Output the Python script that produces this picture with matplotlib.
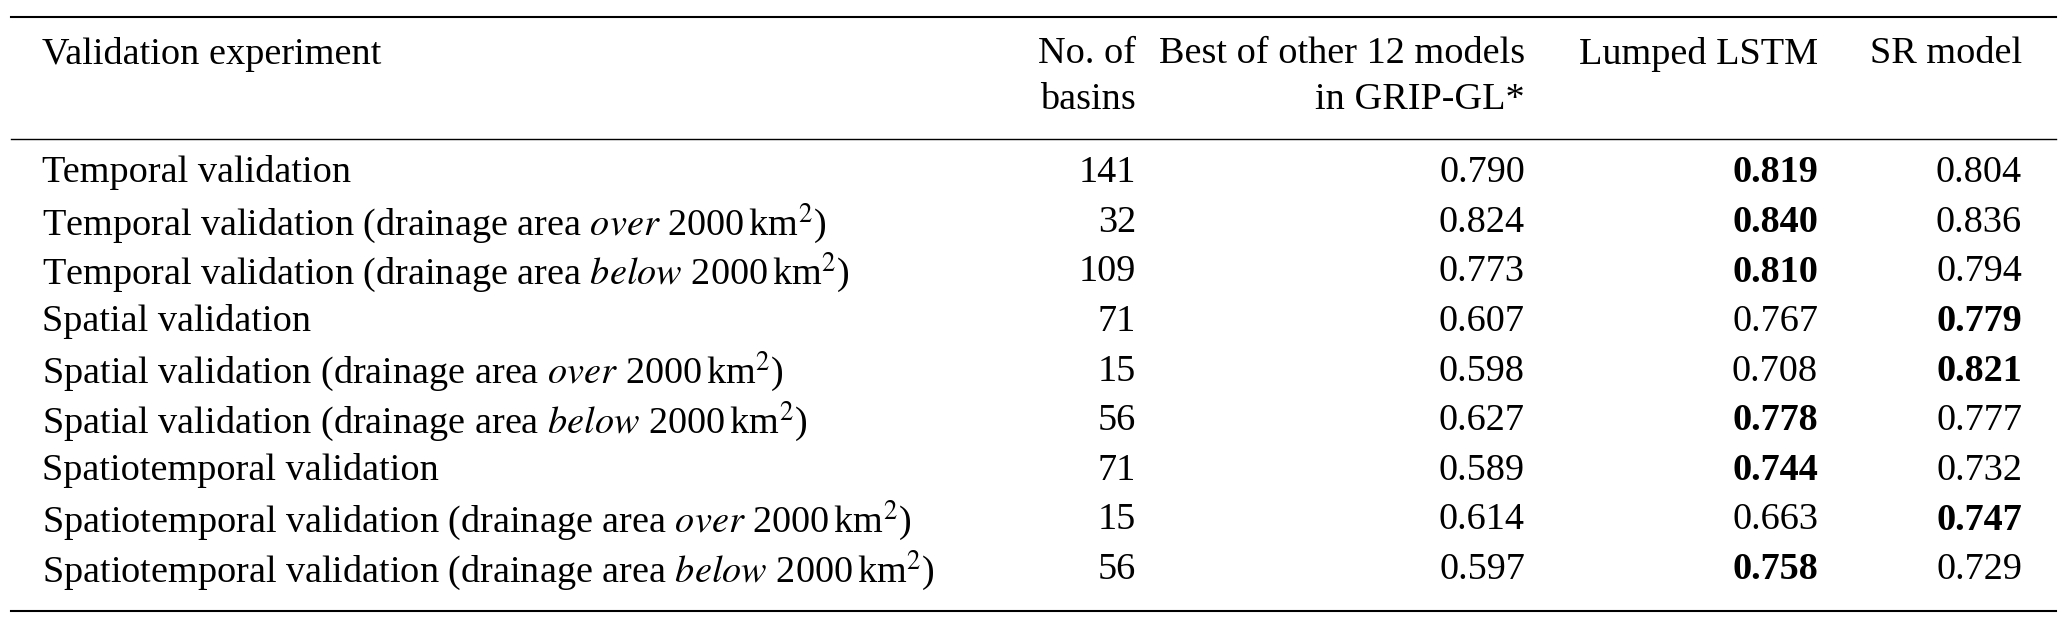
import matplotlib
matplotlib.use("Agg")
import matplotlib.pyplot as plt

plt.rcParams['font.family'] = ['Liberation Serif', 'DejaVu Serif']
plt.rcParams['mathtext.fontset'] = 'stix'

experiments = [
    "Temporal validation",
    r"Temporal validation (drainage area $\it{over}$ 2000$\,$km$^{2}$)",
    r"Temporal validation (drainage area $\it{below}$ 2000$\,$km$^{2}$)",
    "Spatial validation",
    r"Spatial validation (drainage area $\it{over}$ 2000$\,$km$^{2}$)",
    r"Spatial validation (drainage area $\it{below}$ 2000$\,$km$^{2}$)",
    "Spatiotemporal validation",
    r"Spatiotemporal validation (drainage area $\it{over}$ 2000$\,$km$^{2}$)",
    r"Spatiotemporal validation (drainage area $\it{below}$ 2000$\,$km$^{2}$)",
]
n_basins = [141, 32, 109, 71, 15, 56, 71, 15, 56]
best_other = [0.790, 0.824, 0.773, 0.607, 0.598, 0.627, 0.589, 0.614, 0.597]
lumped_lstm = [0.819, 0.840, 0.810, 0.767, 0.708, 0.778, 0.744, 0.663, 0.758]
sr_model = [0.804, 0.836, 0.794, 0.779, 0.821, 0.777, 0.732, 0.747, 0.729]
headers = ["Validation experiment", "No. of\nbasins", "Best of other 12 models\nin GRIP-GL*",
           "Lumped LSTM", "SR model"]

W, H = 2067, 629
fig = plt.figure(figsize=(W/100, H/100), dpi=100)
ax = fig.add_axes([0, 0, 1, 1])
ax.set_xlim(0, W); ax.set_ylim(H, 0); ax.axis('off')

fs = 27.5
xl = 42
xr = [1136, 1525, 1818, 2022]
for y, lw in [(17, 1.5), (139, 1.0), (611, 1.5)]:
    ax.plot([11, 2056], [y, y], color='black', lw=lw)

ax.text(xl, 54, headers[0], fontsize=fs, va='center', ha='left')
for j, h in enumerate(headers[1:]):
    parts = h.split("\n")
    ax.text(xr[j], 54, parts[0], fontsize=fs, va='center', ha='right')
    if len(parts) > 1:
        ax.text(xr[j], 100, parts[1], fontsize=fs, va='center', ha='right')

y0, dy = 173, 49.6
for i in range(len(experiments)):
    y = y0 + i*dy
    ax.text(xl, y, experiments[i], fontsize=fs, va='center', ha='left')
    ax.text(xr[0], y, str(n_basins[i]), fontsize=fs, va='center', ha='right')
    vals = [best_other[i], lumped_lstm[i], sr_model[i]]
    m = max(vals)
    for j, v in enumerate(vals):
        ax.text(xr[j+1], y, f"{v:.3f}", fontsize=fs, va='center', ha='right',
                fontweight='bold' if v == m else 'normal')

fig.savefig("out.png", dpi=100)
